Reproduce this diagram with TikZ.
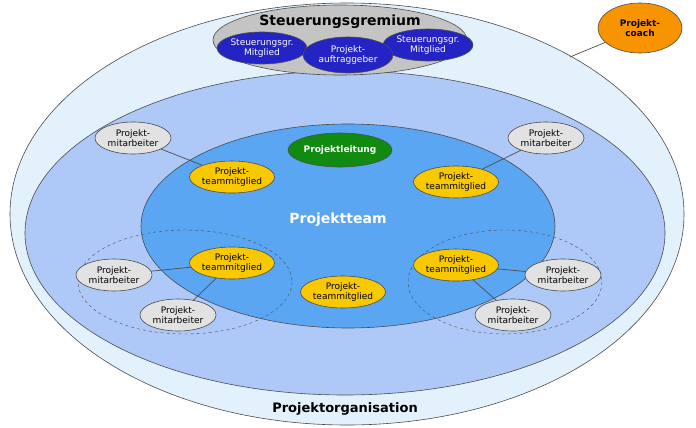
\documentclass[tikz,border=0pt]{standalone}
\usepackage{fontspec}
\setmainfont{DejaVu Sans}
\usepackage{tikz}
\usetikzlibrary{shapes.geometric}
\definecolor{aussen}{HTML}{E2F1FC}
\definecolor{mitte}{HTML}{AEC8F8}
\definecolor{innen}{HTML}{5AA6F2}
\definecolor{grau}{HTML}{C4C4C4}
\definecolor{hellgrau}{HTML}{E2E2E2}
\definecolor{blau}{HTML}{2424C4}
\definecolor{gelb}{HTML}{F8C800}
\definecolor{gruen}{HTML}{108A10}
\definecolor{orange}{HTML}{F89400}
\tikzset{
    rund/.style={draw=black!70, ellipse, inner sep=0pt, align=center, font=\fontsize{9}{9.5}\selectfont, line width=0.6pt},
    mitarb/.style={rund, fill=hellgrau, minimum width=76pt, minimum height=32pt},
    teamm/.style={rund, fill=gelb, minimum width=78pt, minimum height=32pt},
    gremm/.style={rund, fill=blau, text=white, minimum width=90pt, minimum height=32pt},
    conn/.style={-, black!70, line width=0.7pt},
}
\begin{document}
\begin{tikzpicture}[x=1pt, y=-1pt]
    \useasboundingbox (0,0) rectangle (696,428);

    % Ebenen
    \node[rund, fill=aussen, minimum width=674pt, minimum height=422pt] (org) at (347,214) {};
    \node[rund, fill=mitte, minimum width=640pt, minimum height=324pt] (mid) at (345,233) {};
    \node[rund, fill=innen, minimum width=414pt, minimum height=204pt] (team) at (348,226) {};
    \draw[dashed, black!70] (185,282) ellipse (107 and 52);
    \draw[dashed, black!70] (505,282) ellipse (97 and 52);

    \node[font=\bfseries\fontsize{13}{14}\selectfont] (orgtxt) at (345,409) {Projektorganisation};
    \node[text=white, font=\bfseries\fontsize{14}{15}\selectfont] (teamtxt) at (338,220) {Projektteam};

    % Steuerungsgremium
    \node[rund, fill=grau, minimum width=254pt, minimum height=70pt] (grem) at (340,40) {};
    \node[font=\bfseries\fontsize{14}{15}\selectfont] (gremtxt) at (340,22) {Steuerungsgremium};
    \node[gremm] (sg1) at (262,48) {Steuerungsgr.\\Mitglied};
    \node[gremm] (sg2) at (428,45) {Steuerungsgr.\\Mitglied};
    \node[gremm, minimum height=36pt] (pag) at (348,55) {Projekt-\\auftraggeber};

    % Coach
    \node[rund, fill=orange, font=\bfseries\fontsize{9}{9.5}\selectfont, minimum width=84pt, minimum height=50pt] (coach) at (640,28) {Projekt-\\coach};
    \coordinate (anker) at (570,57);
    \draw[conn] (coach) -- (anker);

    % Team
    \node[rund, fill=gruen, text=white, font=\bfseries\fontsize{9}{9.5}\selectfont, minimum width=104pt, minimum height=34pt] (pl) at (340,150) {Projektleitung};
    \node[teamm] (tm1) at (232,177) {Projekt-\\teammitglied};
    \node[teamm] (tm2) at (456,182) {Projekt-\\teammitglied};
    \node[teamm] (tm3) at (232,263) {Projekt-\\teammitglied};
    \node[teamm] (tm4) at (456,265) {Projekt-\\teammitglied};
    \node[teamm] (tm5) at (343,292) {Projekt-\\teammitglied};

    % Mitarbeiter
    \node[mitarb] (ma1) at (133,138) {Projekt-\\mitarbeiter};
    \node[mitarb] (ma2) at (546,138) {Projekt-\\mitarbeiter};
    \node[mitarb] (ma3) at (114,275) {Projekt-\\mitarbeiter};
    \node[mitarb] (ma4) at (178,315) {Projekt-\\mitarbeiter};
    \node[mitarb] (ma5) at (563,275) {Projekt-\\mitarbeiter};
    \node[mitarb] (ma6) at (513,315) {Projekt-\\mitarbeiter};

    \draw[conn] (ma1) -- (tm1);
    \draw[conn] (ma2) -- (tm2);
    \draw[conn] (ma3) -- (tm3);
    \draw[conn] (ma4) -- (tm3);
    \draw[conn] (ma5) -- (tm4);
    \draw[conn] (ma6) -- (tm4);
\end{tikzpicture}
\end{document}
